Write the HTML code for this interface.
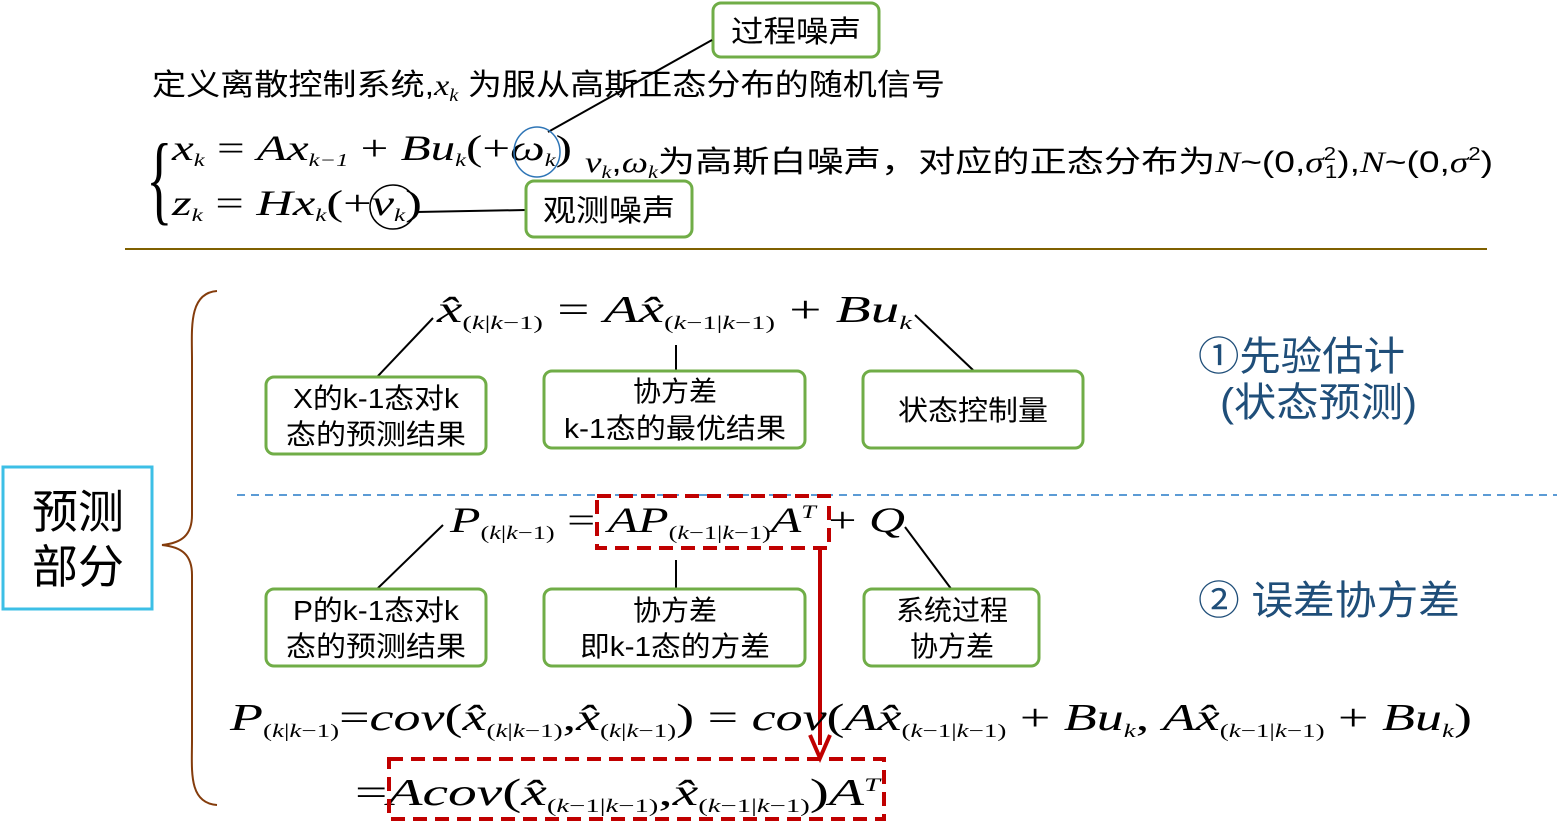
<!DOCTYPE html>
<html><head><meta charset="utf-8"><style>
body{margin:0;background:#fff;width:1557px;height:831px;overflow:hidden}
svg{display:block}
.cn{font-family:"Liberation Sans","Noto Sans CJK SC",sans-serif}
.m{font-family:"Liberation Serif","DejaVu Serif",serif;font-style:italic}
.r{font-style:normal}
</style></head><body>
<svg width="1557" height="831" viewBox="0 0 1557 831" xmlns="http://www.w3.org/2000/svg">
<!-- top section -->
<rect x="713" y="3" width="166" height="54" rx="8" fill="#fff" stroke="#70ad47" stroke-width="3"/>
<text x="796" y="42" class="cn" font-size="30" text-anchor="middle" textLength="130" lengthAdjust="spacingAndGlyphs">过程噪声</text>
<line x1="712" y1="40" x2="548" y2="132" stroke="#000" stroke-width="2"/>
<text x="152" y="95" class="cn" font-size="30" textLength="793" lengthAdjust="spacingAndGlyphs">定义离散控制系统,<tspan class="m">x</tspan><tspan class="m" font-size="18" dy="6">k</tspan><tspan dy="-6"> 为服从高斯正态分布的随机信号</tspan></text>
<text x="143" y="212" font-family="Liberation Serif,serif" font-size="100" transform="scale(0.55,1)" transform-origin="150 170" fill="#000">{</text>
<text x="172" y="160" class="m" font-size="36" textLength="400" lengthAdjust="spacingAndGlyphs">x<tspan font-size="18" dy="6">k</tspan><tspan class="r" dy="-6"> = </tspan>Ax<tspan font-size="18" dy="6">k−1</tspan><tspan class="r" dy="-6"> + </tspan>Bu<tspan font-size="18" dy="6">k</tspan><tspan class="r" dy="-6">(+</tspan>ω<tspan font-size="18" dy="6">k</tspan><tspan class="r" dy="-6">)</tspan></text>
<text x="172" y="215" class="m" font-size="36" textLength="250" lengthAdjust="spacingAndGlyphs">z<tspan font-size="18" dy="6">k</tspan><tspan class="r" dy="-6"> = </tspan>Hx<tspan font-size="18" dy="6">k</tspan><tspan class="r" dy="-6">(+</tspan>v<tspan font-size="18" dy="6">k</tspan><tspan class="r" dy="-6">)</tspan></text>
<ellipse cx="537" cy="152" rx="23" ry="25" fill="none" stroke="#2e75b6" stroke-width="1.5"/>
<ellipse cx="393" cy="207" rx="23" ry="22" fill="none" stroke="#000" stroke-width="1.5"/>
<line x1="416" y1="212" x2="526" y2="210" stroke="#000" stroke-width="2"/>
<rect x="526" y="181" width="166" height="56" rx="8" fill="#fff" stroke="#70ad47" stroke-width="3"/>
<text x="609" y="221" class="cn" font-size="30" text-anchor="middle" textLength="132" lengthAdjust="spacingAndGlyphs">观测噪声</text>
<text x="585" y="172" class="cn" font-size="30" textLength="908" lengthAdjust="spacingAndGlyphs"><tspan class="m">v</tspan><tspan class="m" font-size="18" dy="6">k</tspan><tspan dy="-6">,</tspan><tspan class="m">ω</tspan><tspan class="m" font-size="18" dy="6">k</tspan><tspan dy="-6">为高斯白噪声，对应的正态分布为</tspan><tspan class="m">N</tspan>~(0,<tspan class="m">σ</tspan><tspan font-size="18" dy="-12">2</tspan><tspan font-size="18" dx="-9" dy="18">1</tspan><tspan dy="-6">),</tspan><tspan class="m">N</tspan>~(0,<tspan class="m">σ</tspan><tspan font-size="18" dy="-12">2</tspan><tspan dy="12">)</tspan></text>
<line x1="125" y1="249" x2="1487" y2="249" stroke="#7f6000" stroke-width="2"/>
<!-- left box -->
<rect x="3" y="467" width="149" height="142" fill="#fff" stroke="#3cbfe6" stroke-width="3"/>
<text x="78" y="528" class="cn" font-size="46" text-anchor="middle">预测</text>
<text x="78" y="583" class="cn" font-size="46" text-anchor="middle">部分</text>
<path d="M217 291 C188 293 192 330 192 360 L192 515 C192 535 182 543 162 545 C182 547 192 555 192 575 L192 740 C192 770 188 803 217 805" fill="none" stroke="#843c0c" stroke-width="2"/>
<!-- eq1 -->
<text x="437" y="322" class="m" font-size="38" textLength="475" lengthAdjust="spacingAndGlyphs">x̂<tspan class="r" font-size="19" dy="7">(</tspan><tspan font-size="19">k</tspan><tspan class="r" font-size="19">|</tspan><tspan font-size="19">k</tspan><tspan class="r" font-size="19">−1)</tspan><tspan class="r" dy="-7"> = </tspan>Ax̂<tspan class="r" font-size="19" dy="7">(</tspan><tspan font-size="19">k</tspan><tspan class="r" font-size="19">−1|</tspan><tspan font-size="19">k</tspan><tspan class="r" font-size="19">−1)</tspan><tspan class="r" dy="-7"> + </tspan>Bu<tspan font-size="19" dy="7">k</tspan></text>
<g stroke="#000" stroke-width="2">
<line x1="433" y1="318" x2="378" y2="376"/><line x1="676" y1="345" x2="676" y2="370"/><line x1="915" y1="315" x2="973" y2="370"/>
<line x1="443" y1="525" x2="378" y2="588"/><line x1="676" y1="560" x2="676" y2="588"/><line x1="905" y1="527" x2="952" y2="590"/>
</g>
<g fill="#fff" stroke="#70ad47" stroke-width="3">
<rect x="266" y="377" width="220" height="77" rx="8"/><rect x="544" y="371" width="261" height="77" rx="8"/><rect x="863" y="371" width="220" height="77" rx="8"/>
<rect x="266" y="589" width="220" height="77" rx="8"/><rect x="544" y="589" width="261" height="77" rx="8"/><rect x="864" y="589" width="175" height="77" rx="8"/>
</g>
<g class="cn" font-size="28" text-anchor="middle">
<text x="376" y="408" textLength="166" lengthAdjust="spacingAndGlyphs">X的k-1态对k</text><text x="376" y="444" textLength="180" lengthAdjust="spacingAndGlyphs">态的预测结果</text>
<text x="675" y="401">协方差</text><text x="675" y="438" textLength="222" lengthAdjust="spacingAndGlyphs">k-1态的最优结果</text>
<text x="973" y="420" textLength="150" lengthAdjust="spacingAndGlyphs">状态控制量</text>
<text x="376" y="620" textLength="166" lengthAdjust="spacingAndGlyphs">P的k-1态对k</text><text x="376" y="656" textLength="180" lengthAdjust="spacingAndGlyphs">态的预测结果</text>
<text x="675" y="620">协方差</text><text x="675" y="656" textLength="190" lengthAdjust="spacingAndGlyphs">即k-1态的方差</text>
<text x="952" y="620">系统过程</text><text x="952" y="656">协方差</text>
</g>
<g class="cn" font-size="40" fill="#1f4e79">
<text x="1198" y="370" textLength="207" lengthAdjust="spacingAndGlyphs">①先验估计</text>
<text x="1220" y="416" textLength="197" lengthAdjust="spacingAndGlyphs">(状态预测)</text>
<text x="1198" y="614" textLength="262" lengthAdjust="spacingAndGlyphs">②  误差协方差</text>
</g>
<line x1="237" y1="495" x2="1557" y2="495" stroke="#5b9bd5" stroke-width="2" stroke-dasharray="8,6"/>
<!-- eq2 -->
<text x="450" y="532" class="m" font-size="36" textLength="455" lengthAdjust="spacingAndGlyphs">P<tspan class="r" font-size="19" dy="7">(</tspan><tspan font-size="19">k</tspan><tspan class="r" font-size="19">|</tspan><tspan font-size="19">k</tspan><tspan class="r" font-size="19">−1)</tspan><tspan class="r" dy="-7"> = </tspan>AP<tspan class="r" font-size="19" dy="7">(</tspan><tspan font-size="19">k</tspan><tspan class="r" font-size="19">−1|</tspan><tspan font-size="19">k</tspan><tspan class="r" font-size="19">−1)</tspan><tspan dy="-7">A</tspan><tspan font-size="19" dy="-14">T</tspan><tspan class="r" dy="14"> + </tspan>Q</text>
<rect x="597" y="496" width="232" height="52" fill="none" stroke="#c00000" stroke-width="4" stroke-dasharray="14,8"/>
<line x1="820" y1="549" x2="820" y2="745" stroke="#c00000" stroke-width="4"/>
<path d="M810 735 L820 758 L830 735" fill="none" stroke="#c00000" stroke-width="4"/>
<!-- eq3 -->
<text x="230" y="730" class="m" font-size="38" textLength="1242" lengthAdjust="spacingAndGlyphs">P<tspan class="r" font-size="19" dy="7">(</tspan><tspan font-size="19">k</tspan><tspan class="r" font-size="19">|</tspan><tspan font-size="19">k</tspan><tspan class="r" font-size="19">−1)</tspan><tspan class="r" dy="-7">=</tspan>cov<tspan class="r">(</tspan>x̂<tspan class="r" font-size="19" dy="7">(</tspan><tspan font-size="19">k</tspan><tspan class="r" font-size="19">|</tspan><tspan font-size="19">k</tspan><tspan class="r" font-size="19">−1)</tspan><tspan class="r" dy="-7">,</tspan>x̂<tspan class="r" font-size="19" dy="7">(</tspan><tspan font-size="19">k</tspan><tspan class="r" font-size="19">|</tspan><tspan font-size="19">k</tspan><tspan class="r" font-size="19">−1)</tspan><tspan class="r" dy="-7">) = </tspan>cov<tspan class="r">(</tspan>Ax̂<tspan class="r" font-size="19" dy="7">(</tspan><tspan font-size="19">k</tspan><tspan class="r" font-size="19">−1|</tspan><tspan font-size="19">k</tspan><tspan class="r" font-size="19">−1)</tspan><tspan class="r" dy="-7"> + </tspan>Bu<tspan font-size="19" dy="7">k</tspan><tspan class="r" dy="-7">, </tspan>Ax̂<tspan class="r" font-size="19" dy="7">(</tspan><tspan font-size="19">k</tspan><tspan class="r" font-size="19">−1|</tspan><tspan font-size="19">k</tspan><tspan class="r" font-size="19">−1)</tspan><tspan class="r" dy="-7"> + </tspan>Bu<tspan font-size="19" dy="7">k</tspan><tspan class="r" dy="-7">)</tspan></text>
<!-- eq4 -->
<text x="355" y="805" class="m" font-size="38" textLength="525" lengthAdjust="spacingAndGlyphs"><tspan class="r">=</tspan>Acov<tspan class="r">(</tspan>x̂<tspan class="r" font-size="19" dy="7">(</tspan><tspan font-size="19">k</tspan><tspan class="r" font-size="19">−1|</tspan><tspan font-size="19">k</tspan><tspan class="r" font-size="19">−1)</tspan><tspan class="r" dy="-7">,</tspan>x̂<tspan class="r" font-size="19" dy="7">(</tspan><tspan font-size="19">k</tspan><tspan class="r" font-size="19">−1|</tspan><tspan font-size="19">k</tspan><tspan class="r" font-size="19">−1)</tspan><tspan class="r" dy="-7">)</tspan>A<tspan font-size="19" dy="-14">T</tspan></text>
<rect x="389" y="759" width="495" height="60" fill="none" stroke="#c00000" stroke-width="4" stroke-dasharray="14,8"/>
</svg>
</body></html>
